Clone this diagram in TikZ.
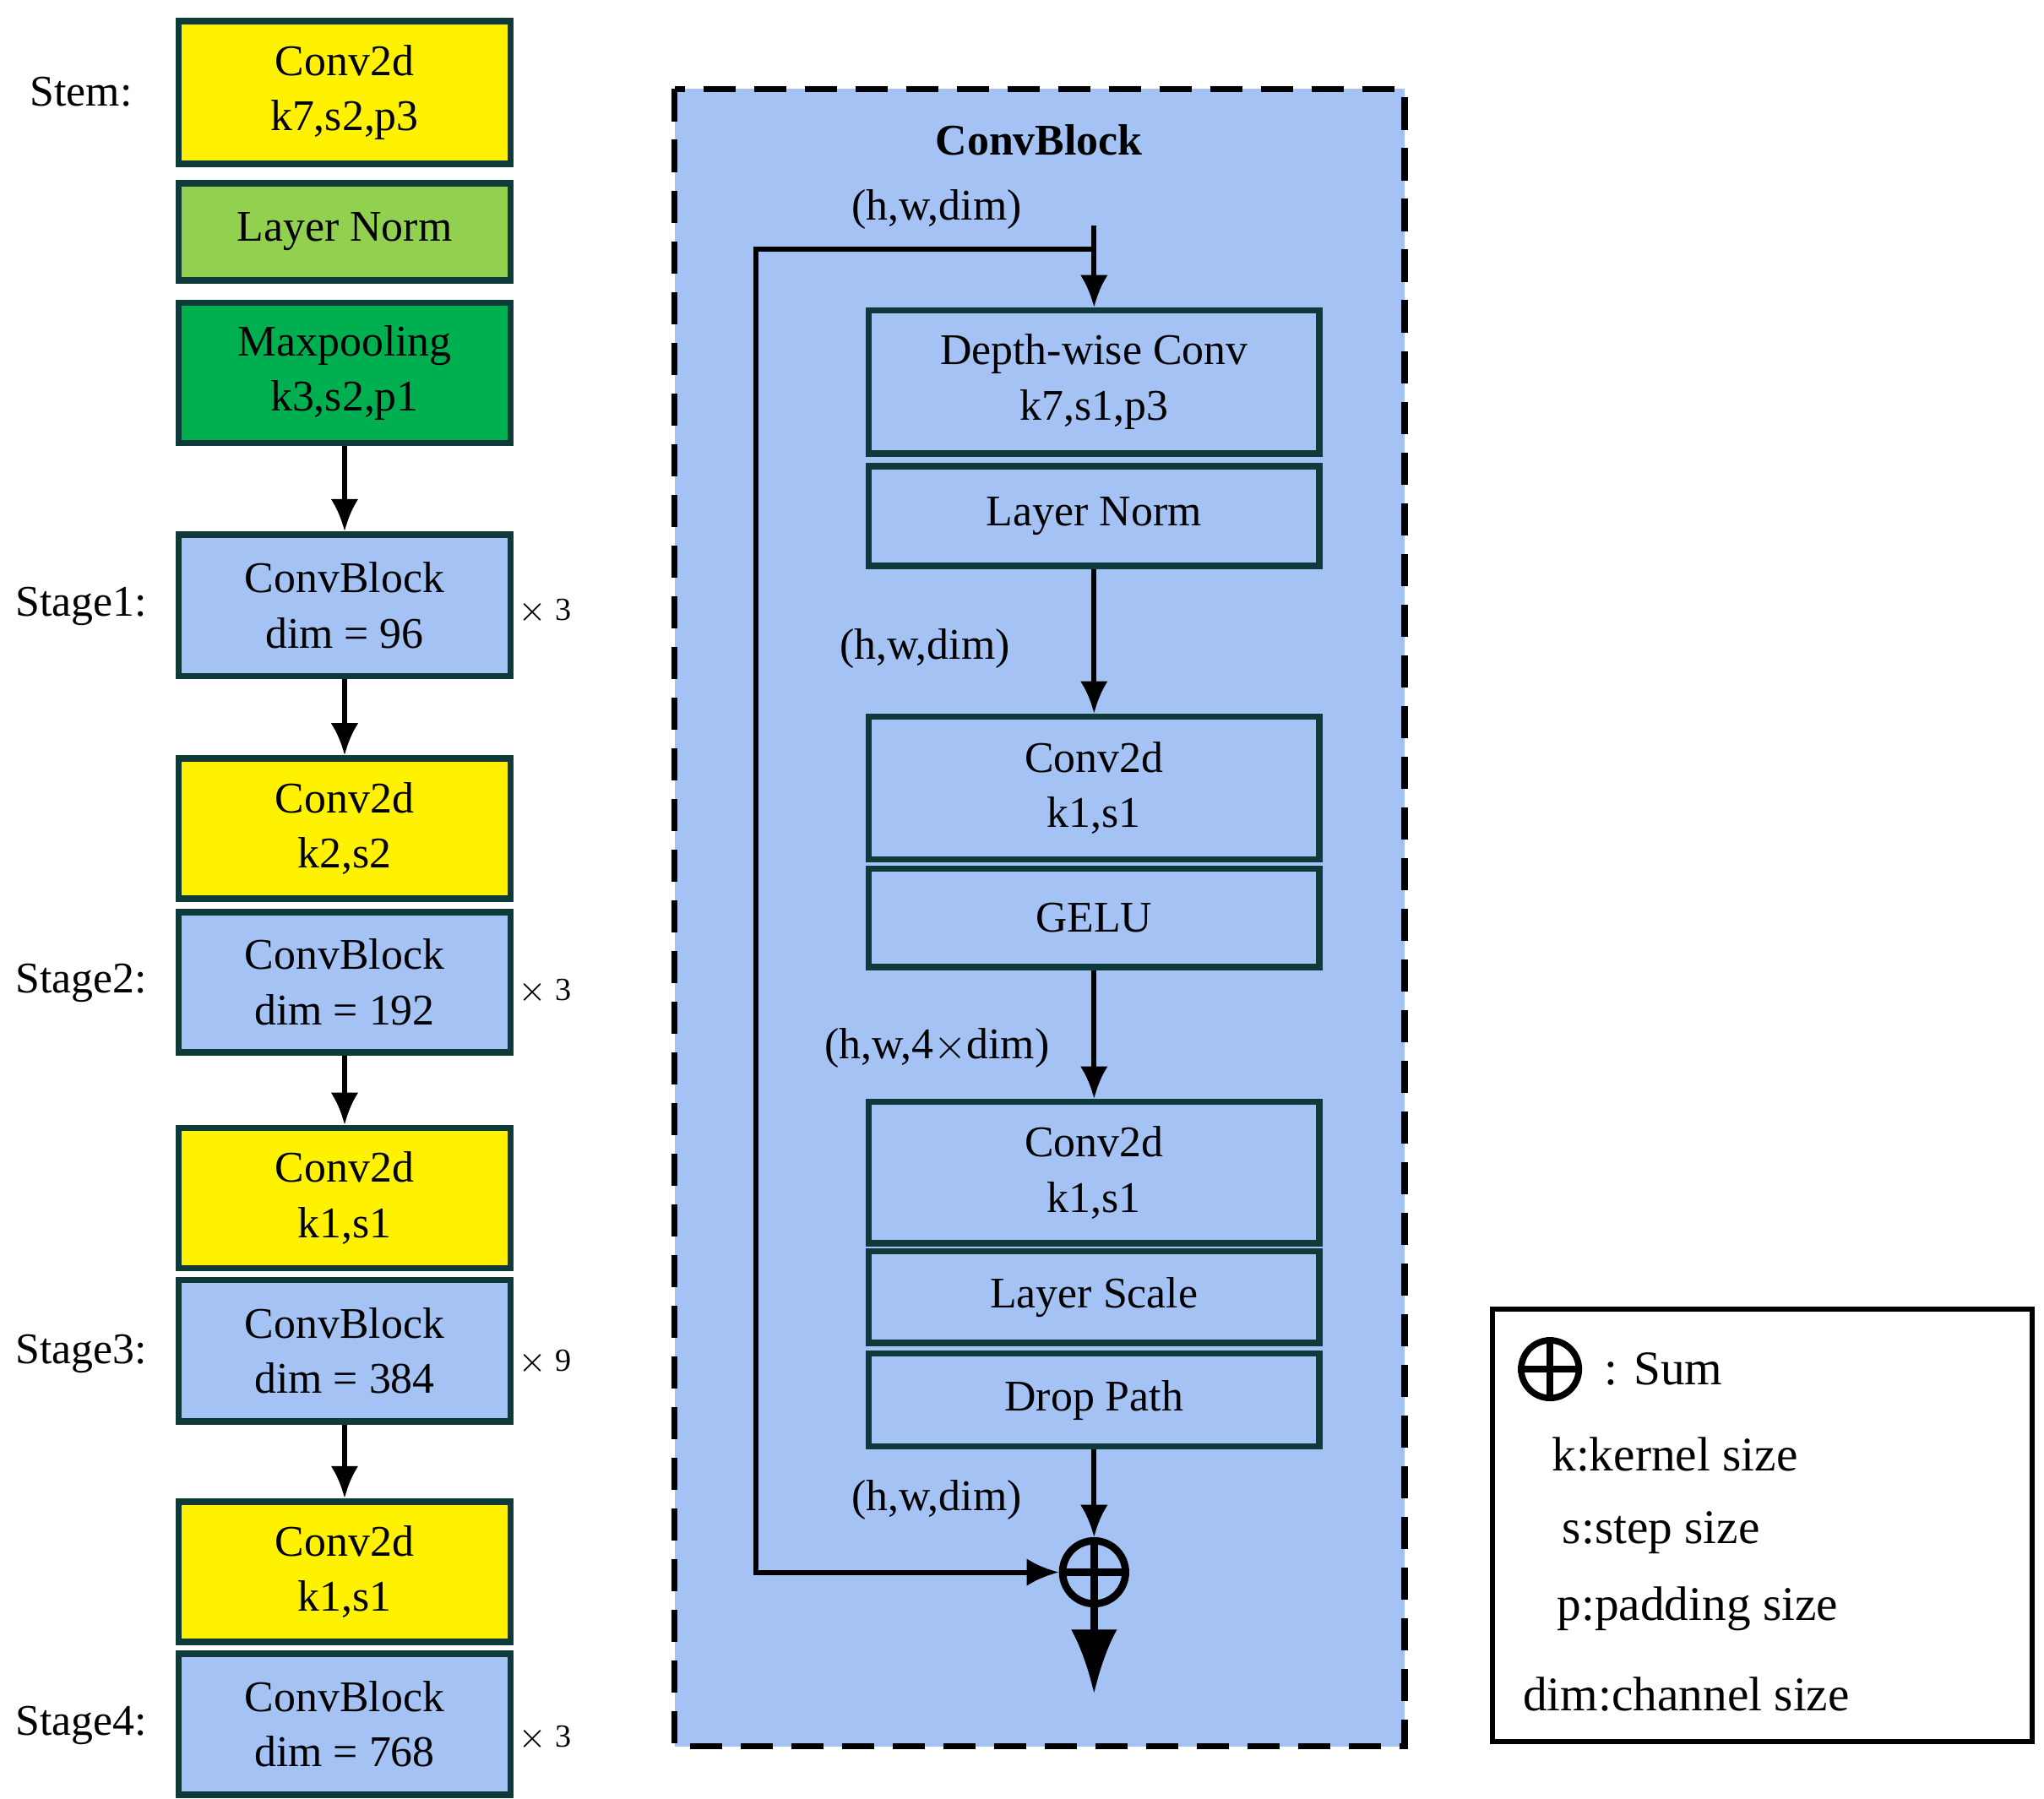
\documentclass[tikz,border=0pt]{standalone}
\usepackage{fontspec}
\setmainfont{Liberation Serif}
\usetikzlibrary{arrows.meta}
\definecolor{cbblue}{HTML}{A4C2F4}
\definecolor{lngreen}{HTML}{92D050}
\definecolor{mpgreen}{HTML}{00B050}
\definecolor{edge}{HTML}{0F3A3A}
\tikzset{
	blk/.style={draw=edge, line width=1.4pt, align=center, inner sep=0pt, font=\fontsize{9.5}{12}\selectfont},
	arr/.style={-{Latex[length=7pt,width=6pt]}, line width=1.1pt},
	lbl/.style={font=\fontsize{9.5}{12}\selectfont}
}
\begin{document}
\begin{tikzpicture}[x=0.01cm, y=-0.01cm]
	\useasboundingbox (0,0) rectangle (1560,1373);
	% left column
	\foreach \n/\yt/\yb/\col/\txt in {
		stem/16/125/yellow/{Conv2d\\k7,s2,p3},
		ln/140/214/lngreen/{Layer Norm},
		mp/231/338/mpgreen/{Maxpooling\\k3,s2,p1},
		sa/408/516/cbblue/{ConvBlock\\dim = 96},
		da/579/686/yellow/{Conv2d\\k2,s2},
		sb/696/803/cbblue/{ConvBlock\\dim = 192},
		db/861/968/yellow/{Conv2d\\k1,s1},
		sc/977/1085/cbblue/{ConvBlock\\dim = 384},
		dc/1146/1253/yellow/{Conv2d\\k1,s1},
		sd/1262/1370/cbblue/{ConvBlock\\dim = 768}}
		\node[blk, fill=\col, minimum width=2.53cm, minimum height={(\yb-\yt)*0.01cm}] (\n) at (263,{(\yt+\yb)/2}) {\txt};
	\draw[arr] (mp) -- (sa);
	\draw[arr] (sa) -- (da);
	\draw[arr] (sb) -- (db);
	\draw[arr] (sc) -- (dc);
	\foreach \y/\t/\r in {70/Stem/3, 463/Stage1/3, 750/Stage2/3, 1033/Stage3/9, 1317/Stage4/3}{
		\node[lbl] (l\t) at (62,\y) {\t:};
		\ifx\t\empty\else\fi
	}
	\foreach \y/\r in {467/3, 757/3, 1040/9, 1327/3}
		\node[font=\fontsize{7}{8}\selectfont] (r\y) at (416,\y) {$\times$ \r};
	% ConvBlock detail
	\draw[dashed, line width=1.3pt, fill=cbblue, dash pattern=on 7pt off 4pt] (515,68) rectangle (1072,1333);
	\node[lbl, font=\fontsize{9.5}{12}\selectfont\bfseries] (title) at (793,107) {ConvBlock};
	\foreach \n/\yt/\yb/\txt in {
		dw/237/346/{Depth-wise Conv\\k7,s1,p3},
		lnb/356/432/{Layer Norm},
		pwa/547/656/{Conv2d\\k1,s1},
		gelu/663/738/{GELU},
		pwb/841/949/{Conv2d\\k1,s1},
		ls/955/1025/{Layer Scale},
		dp/1033/1104/{Drop Path}}
		\node[blk, fill=cbblue, minimum width=3.44cm, minimum height={(\yb-\yt)*0.01cm}] (\n) at (835,{(\yt+\yb)/2}) {\txt};
	\node[draw, line width=1.6pt, circle, minimum size=0.48cm, inner sep=0pt] (sum) at (835,1200) {};
	\draw[line width=1.6pt] (sum.north) -- (sum.south) (sum.west) -- (sum.east);
	\coordinate (in) at (835,172);
	\coordinate (out) at (835,1293);
	\draw[arr] (in) -- (dw);
	\draw[arr] (835,190) -- (577,190) -- (577,1200) -- (sum);
	\draw[arr] (lnb) -- (pwa);
	\draw[arr] (gelu) -- (pwb);
	\draw[arr] (dp) -- (sum);
	\draw[-{Latex[length=14pt,width=10pt]}, line width=1.6pt] (sum) -- (out);
	\node[lbl] (s1) at (715,160) {(h,w,dim)};
	\node[lbl] (s2) at (706,495) {(h,w,dim)};
	\node[lbl] (s3) at (715,800) {(h,w,4$\times$dim)};
	\node[lbl] (s4) at (715,1145) {(h,w,dim)};
	% legend
	\draw[line width=1.1pt] (1139,999) rectangle (1551,1329);
	\node[draw, line width=1.4pt, circle, minimum size=0.44cm, inner sep=0pt] (lsum) at (1183,1045) {};
	\draw[line width=1.4pt] (lsum.north) -- (lsum.south) (lsum.west) -- (lsum.east);
	\node[lbl, anchor=west, font=\fontsize{10.5}{12}\selectfont] (lt) at (1212,1045) {: Sum};
	\node[lbl, anchor=west, font=\fontsize{10.5}{12}\selectfont] (lk) at (1172,1110) {k:kernel size};
	\node[lbl, anchor=west, font=\fontsize{10.5}{12}\selectfont] (ls) at (1180,1170) {s:step size};
	\node[lbl, anchor=west, font=\fontsize{10.5}{12}\selectfont] (lp) at (1176,1228) {p:padding size};
	\node[lbl, anchor=west, font=\fontsize{10.5}{12}\selectfont] (ld) at (1150,1293) {dim:channel size};
\end{tikzpicture}
\end{document}
